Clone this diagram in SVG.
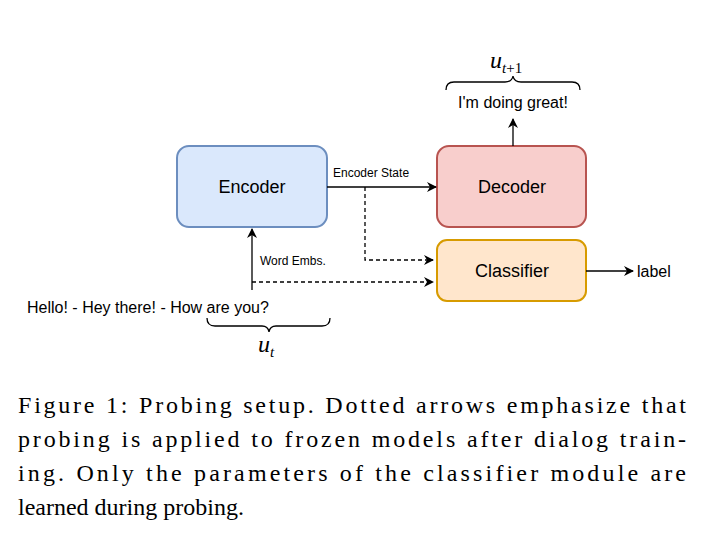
<svg xmlns="http://www.w3.org/2000/svg" width="706" height="558" viewBox="0 0 706 558">
<defs>
<marker id="ah" markerWidth="10" markerHeight="10" refX="9" refY="5" orient="auto" markerUnits="userSpaceOnUse"><path d="M0,0 L10,5 L0,10 L3,5 Z" fill="#000"/></marker>
<style>
.s{font-family:"Liberation Sans",Arial,sans-serif;fill:#000}
.m{font-family:"Liberation Serif",serif;font-style:italic;fill:#000}
.c{font-family:"Liberation Serif","Times New Roman",serif;font-size:24px;fill:#000}
.l{stroke:#000;stroke-width:1.3;fill:none}
.d{stroke:#000;stroke-width:1.3;fill:none;stroke-dasharray:4 3}
.b{stroke:#000;stroke-width:1.3;fill:none}
</style>
</defs>
<rect width="706" height="558" fill="#fff"/>
<g id="encoder"><rect x="177" y="146" width="150" height="81" rx="12" fill="#dae8fc" stroke="#6c8ebf" stroke-width="2"/><text class="s" x="252" y="193" font-size="18" text-anchor="middle">Encoder</text></g>
<g id="decoder"><rect x="437" y="146" width="149" height="81" rx="12" fill="#f8cecc" stroke="#b85450" stroke-width="2"/><text class="s" x="512" y="193" font-size="18" text-anchor="middle">Decoder</text></g>
<g id="classifier"><rect x="437" y="240" width="149" height="61" rx="10" fill="#ffe6cc" stroke="#d79b00" stroke-width="2"/><text class="s" x="512" y="277" font-size="18" text-anchor="middle">Classifier</text></g>
<g id="connectors">
<path class="l" d="M327,187 H436" marker-end="url(#ah)"/>
<path class="d" d="M365,187 V260 H433" marker-end="url(#ah)"/>
<path class="l" d="M252,290 V229" marker-end="url(#ah)"/>
<path class="d" d="M252,282 H433" marker-end="url(#ah)"/>
<path class="l" d="M513,146 V119" marker-end="url(#ah)"/>
<path class="l" d="M586,271 H633" marker-end="url(#ah)"/>
</g>
<g id="labels">
<text class="s" x="333" y="177" font-size="12">Encoder State</text>
<text class="s" x="260" y="265" font-size="12">Word Embs.</text>
<text class="s" x="513" y="108" font-size="16" text-anchor="middle">I'm doing great!</text>
<text class="s" x="637" y="277" font-size="16">label</text>
<text class="s" x="27" y="313" font-size="16">Hello! - Hey there! - How are you?</text>
<path class="b" d="M446,90 Q446,82 454,82 H505 Q512,82 513,76 Q514,82 521,82 H572 Q580,82 580,90"/>
<text class="m" x="490" y="68" font-size="24">u<tspan font-size="15" dy="5">t</tspan><tspan font-style="normal" font-size="15">+1</tspan></text>
<path class="b" d="M207,318 Q207,326 215,326 H262 Q268,326 269,332 Q270,326 276,326 H322 Q330,326 330,318"/>
<text class="m" x="258" y="352" font-size="24">u<tspan font-size="15" dy="5">t</tspan></text>
</g>
<g id="caption">
<text class="c" x="18" y="413" textLength="668" lengthAdjust="spacing">Figure 1: Probing setup. Dotted arrows emphasize that</text>
<text class="c" x="18" y="447" textLength="668" lengthAdjust="spacing">probing is applied to frozen models after dialog train-</text>
<text class="c" x="18" y="481" textLength="668" lengthAdjust="spacing">ing.  Only the parameters of the classifier module are</text>
<text class="c" x="18" y="515">learned during probing.</text>
</g>
</svg>
